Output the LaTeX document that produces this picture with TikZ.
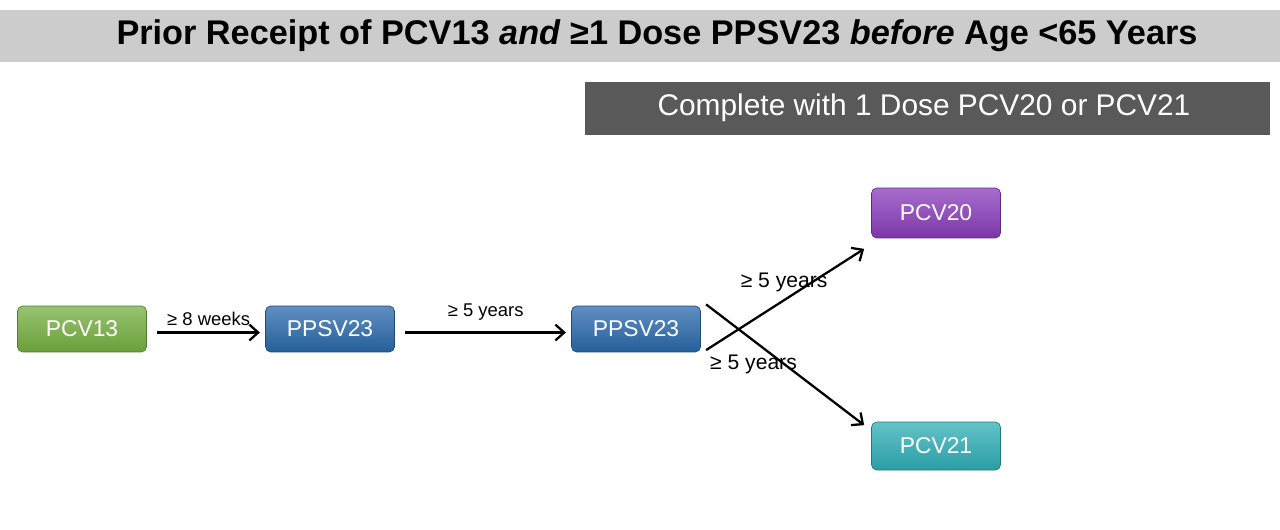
\documentclass[tikz,border=0pt]{standalone}
\usepackage{fontspec}
\setmainfont{Liberation Sans}
\usetikzlibrary{arrows.meta}
\definecolor{vgreen}{HTML}{76B041}
\definecolor{vblue}{HTML}{2A69AC}
\definecolor{vpurple}{HTML}{8A3CBC}
\definecolor{vteal}{HTML}{2EAFB6}
\begin{document}
\begin{tikzpicture}[x=0.02cm,y=-0.02cm,
    vax/.style={rounded corners=3pt,draw=#1!70!black,top color=#1!75!white,bottom color=#1!90!black,
      minimum width=2.58cm,minimum height=0.92cm,text=white,font=\fontsize{13}{15}\selectfont,inner sep=0pt},
    gap/.style={-{Straight Barb[length=5pt,width=9pt]},line width=1.3pt},
    lbl/.style={font=\fontsize{10.5}{12}\selectfont}]
  \useasboundingbox (0,0) rectangle (1280,530);
  % header
  \fill[black!20] (0,10) rectangle (1280,62);
  \node[font=\bfseries\fontsize{19.5}{22}\selectfont] (title) at (657,36)
    {Prior Receipt of PCV13 \textit{and} ≥1 Dose PPSV23 \textit{before} Age <65 Years};
  \fill[black!65] (585,82) rectangle (1270,135);
  \node[text=white,font=\fontsize{17}{20}\selectfont] (goal) at (924,108) {Complete with 1 Dose PCV20 or PCV21};
  % vaccines
  \node[vax=vgreen] (pcv13) at (82,329) {PCV13};
  \node[vax=vblue] (ppsv1) at (330,329) {PPSV23};
  \node[vax=vblue] (ppsv2) at (636,329) {PPSV23};
  \node[vax=vpurple,minimum height=1cm] (pcv20) at (936,213) {PCV20};
  \node[vax=vteal,minimum height=0.96cm] (pcv21) at (936,446) {PCV21};
  % intervals
  \draw[gap] ([xshift=6pt,yshift=-2pt]pcv13.east) -- ([xshift=-3pt,yshift=-2pt]ppsv1.west)
    node[lbl,midway,above] {≥ 8 weeks};
  \draw[gap] ([xshift=6pt,yshift=-2pt]ppsv1.east) -- ([xshift=-3pt,yshift=-2pt]ppsv2.west)
    node[lbl,midway,above,yshift=3pt] {≥ 5 years};
  \draw[gap] ([xshift=3pt,yshift=-12pt]ppsv2.east) -- ([xshift=-4pt,yshift=-6pt]pcv20.south west)
    node[lbl,pos=0.3,above left,yshift=12pt,xshift=46pt,font=\fontsize{12}{14}\selectfont] {≥ 5 years};
  \draw[gap] ([xshift=3pt,yshift=14pt]ppsv2.east) -- ([xshift=-4pt,yshift=-2pt]pcv21.north west)
    node[lbl,pos=0.3,below,yshift=-4pt,xshift=0pt,font=\fontsize{12}{14}\selectfont] {≥ 5 years};
\end{tikzpicture}
\end{document}
